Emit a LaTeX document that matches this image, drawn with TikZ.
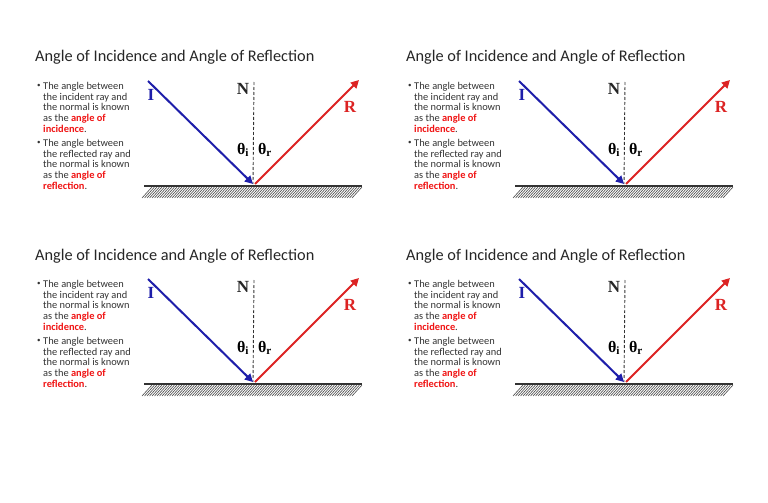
\documentclass[tikz,border=0pt]{standalone}
\usepackage{fontspec}
\setmainfont{Carlito}
\newfontfamily\serifb{Liberation Serif}
\usetikzlibrary{arrows.meta}
\definecolor{rblue}{RGB}{30,30,170}
\definecolor{rred}{RGB}{220,35,35}
\definecolor{tred}{RGB}{240,20,20}
\tikzset{
  title/.style={anchor=base west,inner sep=0pt,font=\fontsize{16.3}{18}\selectfont,text=black!85},
  bul/.style={anchor=north west,inner sep=0pt,align=left,font=\fontsize{10.4}{10.7}\selectfont,text=black!80},
  dot/.style={anchor=north west,inner sep=0pt,font=\fontsize{7}{10.7}\selectfont,text=black!80},
  ray/.style={line width=2pt,-{Triangle[length=8pt,width=8pt]}},
  lab/.style={inner sep=0pt,font=\fontsize{17}{17}\serifb\bfseries},
  th/.style={inner sep=0pt,font=\fontsize{16}{16}\serifb\bfseries},
}
\newcommand{\hl}[1]{\textcolor{tred}{\textbf{#1}}}
\newcommand{\mypanel}[3]{%
\begin{scope}[shift={(#1,#2)}]
\node[title] (t#3) at (35,-62) {Angle of Incidence and Angle of Reflection};
\node[dot] (a#3) at (37,-84) {\textbullet};
\node[bul] (b#3) at (43,-82) {The angle between\\the incident ray and\\the normal is known\\as the \hl{angle of}\\\hl{incidence}.};
\node[dot] (c#3) at (37,-141) {\textbullet};
\node[bul] (d#3) at (43,-139) {The angle between\\the reflected ray and\\the normal is known\\as the \hl{angle of}\\\hl{reflection}.};
\coordinate (s#3) at (148,-81);
\coordinate (o#3) at (253,-184);
\coordinate (e#3) at (359,-80);
\coordinate (n#3) at (254,-82);
\draw[black!80,line width=0.9pt,dash pattern=on 3pt off 2pt] (n#3) -- (o#3);
\draw[ray,rblue] (s#3) -- (o#3);
\draw[ray,rred] ([xshift=2pt]o#3) -- (e#3);
\draw[line width=1.3pt,black!80] (144,-186) -- (362,-186);
\foreach \x in {142,144.5,...,352} {\draw[black!70,line width=0.6pt] (\x,-198) -- (\x+10,-187);}
\node[lab,rblue] (i#3) at (151,-95) {I};
\node[lab,black!85] (nn#3) at (243,-89) {N};
\node[lab,rred] (r#3) at (350,-107) {R};
\node[th] (ti#3) at (243,-150) {θ\textsubscript{i}};
\node[th] (tr#3) at (265,-150) {θ\textsubscript{r}};
\end{scope}}
\begin{document}
\begin{tikzpicture}[x=1pt,y=1pt]
\useasboundingbox (0,0) rectangle (768,-503);
\fill[white] (0,0) rectangle (768,-503);
\mypanel{0}{0}{A}
\mypanel{371}{0}{B}
\mypanel{0}{-198}{C}
\mypanel{371}{-198}{D}
\end{tikzpicture}
\end{document}
